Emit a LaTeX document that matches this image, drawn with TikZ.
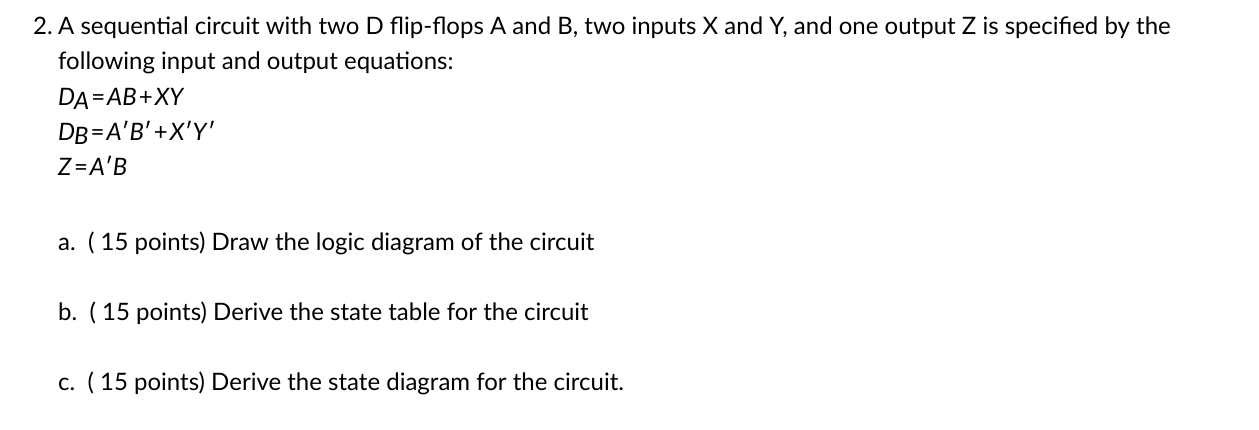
\documentclass[tikz,border=0pt]{standalone}
\usepackage{fontspec}
\setmainfont{Lato}
\begin{document}
\begin{tikzpicture}[x=1pt,y=-1pt,every node/.style={anchor=base west,inner sep=0pt,font=\fontsize{24}{28}\selectfont}]
\useasboundingbox (0,0) rectangle (1259,429);
\node (l1) at (33,34) {2.};
\node (l1b) at (58,34) {A sequential circuit with two D flip-flops A and B, two inputs X and Y, and one output Z is specified by the};
\node (l2) at (58,69) {following input and output equations:};
\node (e1) at (58,105) {\textit{D}\kern-1pt\raisebox{-4pt}{\textit{A}}\kern2pt=\kern2pt\textit{AB}\kern2pt+\kern2pt\textit{XY}};
\node (e2) at (58,140) {\textit{D}\kern-1pt\raisebox{-4pt}{\textit{B}}\kern2pt=\kern2pt\textit{A}′\textit{B}′\kern2pt+\kern2pt\textit{X}′\textit{Y}′};
\node (e3) at (58,175) {\textit{Z}\kern2pt=\kern2pt\textit{A}′\textit{B}};
\node (a) at (58,250) {a.\ \ ( 15 points) Draw the logic diagram of the circuit};
\node (b) at (58,320) {b.\ \ ( 15 points) Derive the state table for the circuit};
\node (c) at (58,390) {c.\ \ ( 15 points) Derive the state diagram for the circuit.};
\end{tikzpicture}
\end{document}
